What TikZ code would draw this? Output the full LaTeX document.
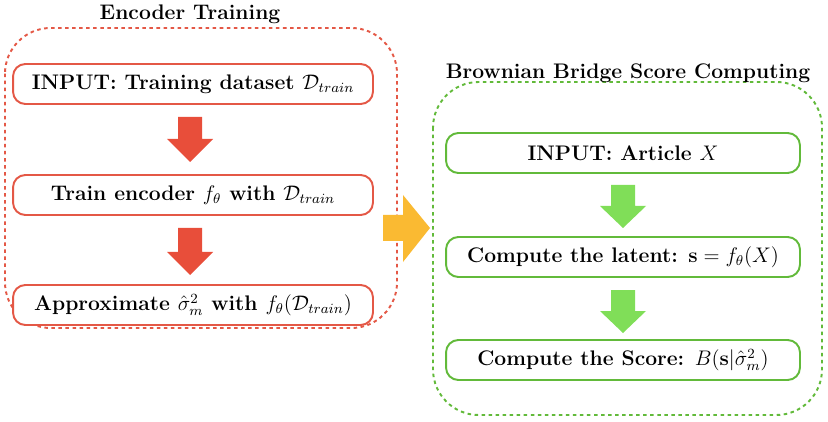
\documentclass[tikz,border=0pt]{standalone}
\newcommand\myvarrow[5]{\fill[#5] (#1-12,#2) -- (#1+12,#2) -- (#1+12,#3) -- (#1+23,#3) -- (#1,#4) -- (#1-23,#3) -- (#1-12,#3) -- cycle;}
\begin{document}
\begin{tikzpicture}[x=0.02cm,y=-0.02cm,
 outer/.style={draw=#1,line width=1.1pt,rounded corners=26pt,dash pattern=on 2pt off 2pt},
 box/.style={draw=#1,line width=1.1pt,rounded corners=7pt,fill=white,font=\large\bfseries},
 ttl/.style={font=\large\bfseries}]
\definecolor{rb}{RGB}{228,88,70}\definecolor{ra}{RGB}{232,78,58}
\definecolor{gb}{RGB}{98,186,58}\definecolor{ga}{RGB}{128,222,88}
\definecolor{oa}{RGB}{250,186,50}
\useasboundingbox (0,0) rectangle (828,422);
\draw[outer=rb] (5,28) rectangle (397,328);
\node[ttl] (t1) at (190,14) {Encoder Training};
\node[box=rb,minimum width=7.2cm,minimum height=0.8cm] (a1) at (193,84) {INPUT: Training dataset $\mathcal{D}_{train}$};
\node[box=rb,minimum width=7.2cm,minimum height=0.8cm] (a2) at (193,195) {Train encoder $f_\theta$ with $\mathcal{D}_{train}$};
\node[box=rb,minimum width=7.2cm,minimum height=0.8cm] (a3) at (193,305) {Approximate $\hat\sigma_m^2$ with $f_\theta(\mathcal{D}_{train})$};
\myvarrow{190}{117}{139}{162}{ra}
\myvarrow{190}{228}{252}{275}{ra}
\draw[outer=gb] (433,82) rectangle (822,415);
\node[ttl] (t2) at (628,73) {Brownian Bridge Score Computing};
\node[box=gb,minimum width=7.08cm,minimum height=0.8cm] (b1) at (623,153) {INPUT: Article $X$};
\node[box=gb,minimum width=7.08cm,minimum height=0.8cm] (b2) at (623,257) {Compute the latent: $\mathbf{s}=f_\theta(X)$};
\node[box=gb,minimum width=7.08cm,minimum height=0.8cm] (b3) at (623,360) {Compute the Score: $B(\mathbf{s}|\hat\sigma_m^2)$};
\myvarrow{623}{185}{206}{228}{ga}
\myvarrow{623}{290}{311}{333}{ga}
\fill[oa] (383,215) -- (403,215) -- (403,195) -- (430,228) -- (403,262) -- (403,241) -- (383,241) -- cycle;
\end{tikzpicture}
\end{document}
